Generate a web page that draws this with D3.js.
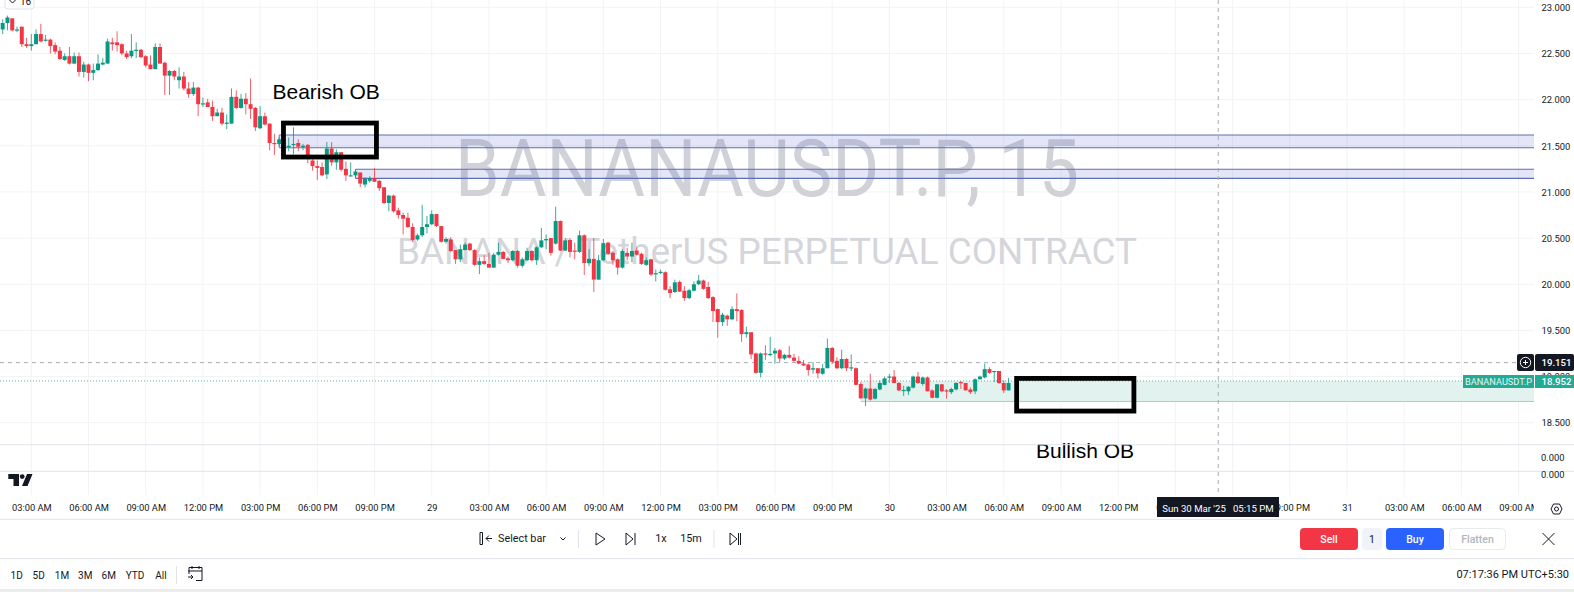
<!DOCTYPE html>
<html>
<head>
<meta charset="utf-8">
<script src="https://cdn.jsdelivr.net/npm/d3@7"></script>
<style>
html, body { margin: 0; padding: 0; background: #fff; overflow: hidden; }
text { font-family: Roboto, sans-serif; fill: #131722; }
</style>
</head>
<body>
<script>
// candles, one per 15m bar
var opens = [
  22.76,22.83,22.88,22.75,22.79,22.60,22.58,22.60,22.71,22.64,
  22.65,22.59,22.53,22.43,22.47,22.39,22.47,22.30,22.38,22.29,
  22.32,22.38,22.39,22.62,22.62,22.60,22.50,22.47,22.53,22.54,
  22.47,22.38,22.33,22.57,22.40,22.26,22.31,22.21,22.25,22.12,
  22.06,22.13,21.95,21.97,21.92,21.82,21.86,21.74,21.74,22.03,
  21.91,22.01,21.95,21.91,21.69,21.82,21.74,21.53,21.52,21.57,
  21.49,21.51,21.53,21.49,21.51,21.34,21.28,21.27,21.19,21.47,
  21.32,21.43,21.25,21.175,21.18,21.21,21.08,21.12,21.15,21.12,
  21.05,20.88,20.96,20.80,20.75,20.72,20.62,20.485,20.53,20.62,
  20.65,20.76,20.63,20.46,20.485,20.37,20.27,20.37,20.44,20.37,
  20.21,20.25,20.22,20.18,20.32,20.35,20.28,20.26,20.36,20.20,
  20.26,20.36,20.26,20.40,20.475,20.50,20.44,20.685,20.365,20.48,
  20.365,20.35,20.53,20.23,20.275,20.05,20.26,20.45,20.34,20.27,
  20.18,20.34,20.30,20.365,20.33,20.21,20.27,20.11,20.13,20.13,
  19.945,19.916,20.025,19.93,19.85,19.93,20.00,20.04,19.97,19.86,
  19.73,19.59,19.66,19.62,19.73,19.72,19.46,19.48,19.25,19.04,
  19.25,19.235,19.25,19.285,19.195,19.235,19.205,19.17,19.14,19.13,
  19.075,19.09,19.03,19.09,19.31,19.17,19.09,19.19,19.095,19.09,
  18.92,18.764,18.87,18.76,18.86,18.91,18.99,19.00,18.93,18.85,
  18.84,18.88,19.00,18.92,18.99,18.85,18.77,18.916,18.85,18.83,
  18.86,18.94,18.93,18.86,18.84,18.97,18.99,19.08,19.05,19.06,18.93,18.85
]
var highs = [
  22.87,22.91,22.88,22.79,22.79,22.67,22.71,22.76,22.82,22.70,
  22.66,22.62,22.57,22.50,22.57,22.51,22.51,22.41,22.39,22.39,
  22.49,22.45,22.66,22.67,22.74,22.61,22.53,22.71,22.62,22.55,
  22.48,22.48,22.61,22.61,22.41,22.32,22.32,22.35,22.30,22.19,
  22.19,22.14,22.02,22.01,21.99,21.90,21.91,21.84,22.12,22.10,
  22.06,22.07,22.23,21.92,21.93,21.86,21.74,21.63,21.59,21.58,
  21.59,21.70,21.57,21.52,21.52,21.39,21.34,21.32,21.54,21.54,
  21.46,21.43,21.33,21.32,21.24,21.21,21.16,21.17,21.26,21.13,
  21.05,20.97,20.97,20.83,20.775,20.775,20.66,20.55,20.86,20.74,
  20.80,20.76,20.63,20.51,20.51,20.37,20.43,20.45,20.45,20.38,
  20.29,20.315,20.34,20.34,20.45,20.36,20.30,20.37,20.37,20.29,
  20.395,20.37,20.41,20.61,20.54,20.50,20.84,20.69,20.50,20.50,
  20.45,20.58,20.54,20.38,20.50,20.315,20.49,20.46,20.36,20.28,
  20.38,20.395,20.45,20.40,20.34,20.29,20.275,20.16,20.16,20.14,
  19.98,20.05,20.04,19.98,19.95,20.03,20.10,20.05,20.025,19.87,
  19.735,19.69,19.67,19.76,19.90,19.73,19.54,19.48,19.26,19.26,
  19.34,19.43,19.31,19.30,19.245,19.33,19.245,19.22,19.18,19.14,
  19.155,19.09,19.135,19.41,19.32,19.21,19.29,19.20,19.24,19.10,
  18.94,18.88,19.03,18.88,18.96,19.00,19.03,19.07,18.94,18.90,
  18.895,19.01,19.05,19.00,19.00,18.86,18.92,18.92,18.865,18.88,
  18.94,18.95,18.93,18.88,18.98,19.01,19.14,19.10,19.06,19.06,18.96,18.985
]
var lows = [
  22.71,22.75,22.74,22.73,22.57,22.56,22.53,22.60,22.62,22.63,
  22.50,22.49,22.43,22.42,22.38,22.39,22.25,22.24,22.20,22.21,
  22.31,22.37,22.39,22.53,22.52,22.48,22.44,22.45,22.45,22.45,
  22.35,22.33,22.33,22.39,22.05,22.05,22.21,22.12,22.10,22.02,
  22.04,21.82,21.92,21.92,21.77,21.82,21.72,21.68,21.74,21.90,
  21.90,21.84,21.79,21.66,21.68,21.72,21.45,21.40,21.50,21.52,
  21.44,21.41,21.44,21.45,21.31,21.23,21.13,21.17,21.14,21.28,
  21.24,21.22,21.12,21.17,21.17,21.05,21.05,21.10,21.11,21.01,
  20.87,20.79,20.775,20.71,20.54,20.61,20.46,20.47,20.51,20.55,
  20.64,20.62,20.45,20.44,20.35,20.22,20.24,20.37,20.36,20.20,
  20.11,20.21,20.18,20.18,20.31,20.27,20.23,20.25,20.18,20.18,
  20.25,20.25,20.21,20.395,20.38,20.31,20.43,20.36,20.36,20.29,
  20.27,20.34,20.10,20.195,19.916,20.05,20.25,20.32,20.21,20.105,
  20.17,20.26,20.24,20.31,20.21,20.20,20.09,20.03,20.11,19.93,
  19.85,19.905,19.916,19.82,19.84,19.92,19.99,19.94,19.84,19.59,
  19.42,19.55,19.55,19.61,19.60,19.375,19.42,19.19,19.03,18.99,
  19.18,19.22,19.14,19.155,19.18,19.195,19.16,19.135,19.115,19.01,
  19.03,18.98,19.02,19.09,19.135,19.08,19.08,19.06,19.06,18.905,
  18.76,18.68,18.74,18.75,18.85,18.905,18.93,18.93,18.84,18.79,
  18.80,18.87,18.92,18.90,18.84,18.764,18.764,18.83,18.76,18.81,
  18.85,18.865,18.85,18.81,18.81,18.97,18.98,19.03,18.94,18.92,18.82,18.85
]
var closes = [
  22.83,22.89,22.75,22.76,22.60,22.58,22.60,22.71,22.63,22.65,
  22.58,22.52,22.44,22.47,22.39,22.47,22.30,22.38,22.29,22.32,
  22.39,22.40,22.63,22.60,22.59,22.50,22.46,22.53,22.54,22.46,
  22.37,22.33,22.57,22.39,22.26,22.31,22.25,22.25,22.12,22.06,
  22.13,21.95,21.96,21.92,21.82,21.86,21.74,21.75,22.03,21.91,
  22.01,21.95,21.90,21.70,21.82,21.73,21.53,21.52,21.57,21.55,
  21.50,21.52,21.49,21.50,21.39,21.28,21.26,21.18,21.47,21.32,
  21.43,21.24,21.18,21.18,21.22,21.09,21.14,21.15,21.11,21.04,
  20.88,20.96,20.79,20.75,20.71,20.62,20.48,20.53,20.62,20.65,
  20.76,20.63,20.46,20.49,20.36,20.27,20.38,20.43,20.37,20.21,
  20.25,20.22,20.18,20.32,20.35,20.275,20.26,20.36,20.20,20.27,
  20.36,20.26,20.40,20.475,20.49,20.34,20.685,20.365,20.475,20.35,
  20.36,20.53,20.23,20.275,20.05,20.26,20.445,20.33,20.26,20.18,
  20.36,20.30,20.36,20.32,20.22,20.26,20.105,20.12,20.135,19.94,
  19.905,20.02,19.92,19.85,19.935,20.00,20.04,19.95,19.85,19.71,
  19.59,19.67,19.62,19.73,19.71,19.46,19.48,19.24,19.04,19.25,
  19.24,19.245,19.28,19.195,19.235,19.205,19.17,19.14,19.12,19.07,
  19.09,19.035,19.09,19.31,19.16,19.09,19.19,19.09,19.10,18.91,
  18.764,18.87,18.75,18.865,18.93,18.98,19.00,18.93,18.85,18.855,
  18.89,19.00,18.93,18.99,18.84,18.77,18.916,18.84,18.84,18.865,
  18.93,18.93,18.85,18.83,18.97,19.00,19.08,19.04,19.06,18.93,18.85,18.93
]

// axes
var priceTicks = [23, 22.5, 22, 21.5, 21, 20.5, 20, 19.5, 19, 18.5]
var timeBars = [6,18,30,42,54,66,78,90,102,114,126,138,150,162,174,186,198,210,222,234,246,258,270,282,294,306,318]
var timeLabels = ['03:00 AM','06:00 AM','09:00 AM','12:00 PM','03:00 PM','06:00 PM','09:00 PM','29',
  '03:00 AM','06:00 AM','09:00 AM','12:00 PM','03:00 PM','06:00 PM','09:00 PM','30',
  '03:00 AM','06:00 AM','09:00 AM','12:00 PM','03:00 PM','06:00 PM','09:00 PM','31',
  '03:00 AM','06:00 AM','09:00 AM']

// zones and annotation boxes: [first bar, top price, bottom price]
var blueZones = [[58, 21.616, 21.479], [74, 21.245, 21.147]]
var greenZone = [180, 18.952, 18.73]
var crossBar = 255
var crossPrice = 19.151
var lastPrice = 18.952
var noteBoxes = [[58.9, 78.4, 21.746, 21.378], [212.7, 237.3, 18.98, 18.626]]

var ranges = ['1D','5D','1M','3M','6M','YTD','All']
var rangeX = [16.7, 38.7, 62, 85.3, 108.7, 135, 161]

var W = 1574, H = 592, paneRight = 1534
var red = '#f23645', green = '#089981'

var svg = d3.select('body').append('svg').attr('width', W).attr('height', H)
  .style('display', 'block')

var x = d3.scaleLinear().domain([6, 318]).range([31.3, 1518.6])
var y = d3.scaleLinear().domain([23, 18.5]).range([7.3, 422.7])

svg.append('clipPath').attr('id', 'pane').append('rect')
  .attr('width', paneRight).attr('height', 495)

// grid
var grid = svg.append('g').attr('clip-path', 'url(#pane)')
grid.selectAll('line.v').data(timeBars).enter().append('line')
  .attr('x1', function(d) { return x(d) }).attr('x2', function(d) { return x(d) })
  .attr('y1', 0).attr('y2', 495).attr('stroke', '#f2f3f5')
grid.selectAll('line.h').data(priceTicks).enter().append('line')
  .attr('x1', 0).attr('x2', paneRight)
  .attr('y1', function(d) { return y(d) }).attr('y2', function(d) { return y(d) })
  .attr('stroke', '#f2f3f5')

// watermark
svg.append('text').attr('x', 455).attr('y', 196).attr('font-size', 79)
  .attr('textLength', 624).attr('lengthAdjust', 'spacingAndGlyphs')
  .style('fill', '#d0d2d8').text('BANANAUSDT.P, 15')
svg.append('text').attr('x', 397).attr('y', 263.5).attr('font-size', 37)
  .attr('textLength', 740).attr('lengthAdjust', 'spacingAndGlyphs')
  .style('fill', '#d5d6db').text('BANANA / TetherUS PERPETUAL CONTRACT')

// zones
var plot = svg.append('g').attr('clip-path', 'url(#pane)')
blueZones.forEach(function(z) {
  plot.append('rect').attr('x', x(z[0])).attr('y', y(z[1]))
    .attr('width', paneRight - x(z[0])).attr('height', y(z[2]) - y(z[1]))
    .attr('fill', '#3f51c8').attr('fill-opacity', 0.14)
  plot.selectAll(null).data([z[1], z[2]]).enter().append('line')
    .attr('x1', x(z[0])).attr('x2', paneRight)
    .attr('y1', function(d) { return y(d) }).attr('y2', function(d) { return y(d) })
    .attr('stroke', '#5b6fb4').attr('stroke-width', 1.1)
  plot.append('line').attr('x1', x(z[0])).attr('x2', x(z[0]))
    .attr('y1', y(z[1])).attr('y2', y(z[2])).attr('stroke', '#5b6fb4')
})
plot.append('rect').attr('x', x(greenZone[0])).attr('y', y(greenZone[1]))
  .attr('width', paneRight - x(greenZone[0])).attr('height', y(greenZone[2]) - y(greenZone[1]))
  .attr('fill', '#e2f3ef')
plot.append('line').attr('x1', x(greenZone[0])).attr('x2', paneRight)
  .attr('y1', y(greenZone[2])).attr('y2', y(greenZone[2])).attr('stroke', '#9dd3c7')

// crosshair and last price line
plot.append('line').attr('x1', 0).attr('x2', paneRight - 17)
  .attr('y1', y(crossPrice)).attr('y2', y(crossPrice))
  .attr('stroke', '#a9acb4').attr('stroke-dasharray', '4 4')
plot.append('line').attr('x1', x(crossBar)).attr('x2', x(crossBar))
  .attr('y1', 0).attr('y2', 495)
  .attr('stroke', '#a9acb4').attr('stroke-dasharray', '4 4')
plot.append('line').attr('x1', 0).attr('x2', paneRight)
  .attr('y1', y(lastPrice)).attr('y2', y(lastPrice))
  .attr('stroke', '#57b5a5').attr('stroke-dasharray', '1 2')

// candles
var candles = plot.selectAll('g.candle').data(d3.range(opens.length)).enter().append('g')
candles.append('line')
  .attr('x1', function(i) { return x(i) }).attr('x2', function(i) { return x(i) })
  .attr('y1', function(i) { return y(highs[i]) }).attr('y2', function(i) { return y(lows[i]) })
  .attr('stroke', function(i) { return closes[i] >= opens[i] ? green : red })
  .attr('stroke-opacity', 0.8)
candles.append('rect')
  .attr('x', function(i) { return x(i) - 2 }).attr('width', 4)
  .attr('y', function(i) { return y(Math.max(opens[i], closes[i])) })
  .attr('height', function(i) { return Math.max(1.2, Math.abs(y(opens[i]) - y(closes[i]))) })
  .attr('fill', function(i) { return closes[i] >= opens[i] ? green : red })

// annotations
svg.selectAll('rect.note').data(noteBoxes).enter().append('rect')
  .attr('x', function(d) { return x(d[0]) }).attr('width', function(d) { return x(d[1]) - x(d[0]) })
  .attr('y', function(d) { return y(d[2]) }).attr('height', function(d) { return y(d[3]) - y(d[2]) })
  .attr('fill', 'none').attr('stroke', '#000').attr('stroke-width', 4.8)
svg.append('text').attr('x', 272.5).attr('y', 99).attr('font-size', 21)
  .style('font-family', 'Liberation Sans, Arial, sans-serif').style('fill', '#000').text('Bearish OB')
svg.append('text').attr('x', 1036).attr('y', 458.3).attr('font-size', 21)
  .style('font-family', 'Liberation Sans, Arial, sans-serif').style('fill', '#000').text('Bullish OB')

// price axis
var yAxis = d3.axisRight(y).tickValues(priceTicks)
  .tickFormat(function(d) { return d.toFixed(3) }).tickSize(0).tickPadding(0)
var yg = svg.append('g').attr('transform', 'translate(1541.5,0)').call(yAxis)
yg.select('.domain').remove()
yg.selectAll('text').attr('font-size', 9.4).attr('dy', '0.35em').style('fill', '#131722')

// sub panes
svg.selectAll('line.sep').data([444.7, 471.3]).enter().append('line')
  .attr('x1', 0).attr('x2', W)
  .attr('y1', function(d) { return d }).attr('y2', function(d) { return d })
  .attr('stroke', '#e0e3eb')
svg.selectAll('text.zero').data([458, 475]).enter().append('text')
  .attr('x', 1541).attr('y', function(d) { return d }).attr('dy', '0.35em')
  .attr('font-size', 9.4).text('0.000')

// price labels
svg.append('rect').attr('x', 1517).attr('y', 354).attr('width', 17).attr('height', 17).attr('rx', 2).attr('fill', '#131722')
svg.append('circle').attr('cx', 1525.5).attr('cy', 362.5).attr('r', 5.2).attr('fill', 'none').attr('stroke', '#fff')
svg.append('path').attr('d', 'M1523 362.5h5M1525.5 360v5').attr('stroke', '#fff')
svg.append('rect').attr('x', 1535).attr('y', 354).attr('width', 39).attr('height', 17).attr('rx', 2).attr('fill', '#131722')
svg.append('text').attr('x', 1541.5).attr('y', y(crossPrice)).attr('dy', '0.35em').attr('font-size', 9.6)
  .style('fill', '#fff').style('font-weight', 500).text(crossPrice.toFixed(3))
svg.append('rect').attr('x', 1463).attr('y', 375).attr('width', 71).attr('height', 13).attr('fill', '#22ab94')
svg.append('text').attr('x', 1498.5).attr('y', 381.7).attr('dy', '0.35em').attr('text-anchor', 'middle')
  .attr('font-size', 9.2).style('fill', '#e6f6f3').text('BANANAUSDT.P')
svg.append('rect').attr('x', 1535).attr('y', 375).attr('width', 39).attr('height', 13).attr('fill', '#22ab94')
svg.append('text').attr('x', 1541.5).attr('y', 381.7).attr('dy', '0.35em').attr('font-size', 9.6)
  .style('fill', '#fff').style('font-weight', 500).text(lastPrice.toFixed(3))

// top left chip
svg.append('rect').attr('x', 5).attr('y', -8).attr('width', 29).attr('height', 17).attr('rx', 3)
  .attr('fill', '#fff').attr('stroke', '#e0e3eb')
svg.append('path').attr('d', 'M9.5 0l3 3 3-3').attr('fill', 'none').attr('stroke', '#131722')
svg.append('text').attr('x', 20).attr('y', 5).attr('font-size', 10).text('16')

// tradingview logo
svg.append('path').attr('fill', '#131722')
  .attr('d', 'M8.3 474h10.7v12h-5.5v-7h-5.2zM27 474h5.5l-5 12h-5.5z')
svg.append('circle').attr('cx', 22.2).attr('cy', 476.6).attr('r', 2.4).attr('fill', '#131722')

// time axis
svg.append('clipPath').attr('id', 'timeclip').append('rect')
  .attr('y', 495).attr('width', paneRight).attr('height', 24)
var xAxis = d3.axisBottom(x).tickValues(timeBars)
  .tickFormat(function(d, i) { return timeLabels[i] }).tickSize(0).tickPadding(0)
var xg = svg.append('g').attr('clip-path', 'url(#timeclip)')
  .append('g').attr('transform', 'translate(0,504.5)').call(xAxis)
xg.select('.domain').remove()
xg.selectAll('text').attr('font-size', 9.3).style('fill', '#131722')

svg.append('rect').attr('x', 1157).attr('y', 497).attr('width', 122).attr('height', 20).attr('fill', '#131722')
svg.append('text').attr('x', 1218).attr('y', 508.5).attr('dy', '0.35em').attr('text-anchor', 'middle')
  .attr('font-size', 9.6).style('fill', '#fff').attr('xml:space', 'preserve')
  .text("Sun 30 Mar '25   05:15 PM")

// settings icon
svg.append('path').attr('d', 'M1551 509l2.5-5h6l2.5 5-2.5 5h-6z').attr('fill', 'none').attr('stroke', '#131722')
svg.append('circle').attr('cx', 1556.5).attr('cy', 509).attr('r', 2).attr('fill', 'none').attr('stroke', '#131722')

// toolbars
svg.selectAll('line.bar').data([519.3, 558.7]).enter().append('line')
  .attr('x1', 0).attr('x2', W)
  .attr('y1', function(d) { return d }).attr('y2', function(d) { return d })
  .attr('stroke', '#e0e3eb')
svg.append('rect').attr('y', 589).attr('width', W).attr('height', 3).attr('fill', '#ececec')

// replay bar
svg.append('path').attr('fill', 'none').attr('stroke', '#131722')
  .attr('d', 'M480 532.5h2.5v12h-2.5zM492 538.5h-6M489 535.5l-3 3 3 3')
svg.append('text').attr('x', 498).attr('y', 541.5).attr('font-size', 10.8).text('Select bar')
svg.append('path').attr('d', 'M560.5 537.5l2.5 2.5 2.5-2.5').attr('fill', 'none').attr('stroke', '#131722')
svg.append('line').attr('x1', 578.5).attr('x2', 578.5).attr('y1', 530).attr('y2', 548).attr('stroke', '#e0e3eb')
svg.append('path').attr('d', 'M596 533l9 6-9 6z').attr('fill', 'none').attr('stroke', '#131722')
svg.append('path').attr('d', 'M626 533l7 6-7 6zM635 533v12').attr('fill', 'none').attr('stroke', '#131722')
svg.append('text').attr('x', 661).attr('y', 541.5).attr('text-anchor', 'middle').attr('font-size', 10.8).text('1x')
svg.append('text').attr('x', 691).attr('y', 541.5).attr('text-anchor', 'middle').attr('font-size', 10.8).text('15m')
svg.append('line').attr('x1', 714).attr('x2', 714).attr('y1', 530).attr('y2', 548).attr('stroke', '#e0e3eb')
svg.append('path').attr('d', 'M730 533l7 6-7 6zM738.5 533v12M740.5 533v12').attr('fill', 'none').attr('stroke', '#131722')

// order buttons
svg.append('rect').attr('x', 1300).attr('y', 528).attr('width', 58).attr('height', 22).attr('rx', 4).attr('fill', red)
svg.append('text').attr('x', 1329).attr('y', 542.5).attr('text-anchor', 'middle').attr('font-size', 10.5).style('fill', '#fff').style('font-weight', 500).text('Sell')
svg.append('rect').attr('x', 1362).attr('y', 528).attr('width', 20).attr('height', 22).attr('rx', 4).attr('fill', '#f0f3fa')
svg.append('text').attr('x', 1372).attr('y', 542.5).attr('text-anchor', 'middle').attr('font-size', 10.5).text('1')
svg.append('rect').attr('x', 1386).attr('y', 528).attr('width', 58).attr('height', 22).attr('rx', 4).attr('fill', '#2962ff')
svg.append('text').attr('x', 1415).attr('y', 542.5).attr('text-anchor', 'middle').attr('font-size', 10.5).style('fill', '#fff').style('font-weight', 500).text('Buy')
svg.append('rect').attr('x', 1449.5).attr('y', 528.5).attr('width', 56).attr('height', 21).attr('rx', 4).attr('fill', '#fff').attr('stroke', '#e8eaf0')
svg.append('text').attr('x', 1477.5).attr('y', 542.5).attr('text-anchor', 'middle').attr('font-size', 10.5).style('fill', '#b2b5be').style('font-weight', 500).text('Flatten')
svg.append('path').attr('d', 'M1542.5 533l12 12M1554.5 533l-12 12').attr('stroke', '#131722').attr('fill', 'none')

// range bar
svg.selectAll('text.range').data(ranges).enter().append('text')
  .attr('x', function(d, i) { return rangeX[i] }).attr('y', 578.5)
  .attr('text-anchor', 'middle').attr('font-size', 10).text(function(d) { return d })
svg.append('line').attr('x1', 176.5).attr('x2', 176.5).attr('y1', 566).attr('y2', 584).attr('stroke', '#e0e3eb')
svg.append('path').attr('fill', 'none').attr('stroke', '#131722')
  .attr('d', 'M189 574v-6.5h13v13h-6M192 566v3M199 566v3M188 577h5M191 575l2 2-2 2M188 571h14')
svg.append('text').attr('x', 1569).attr('y', 578).attr('text-anchor', 'end').attr('font-size', 11).text('07:17:36 PM UTC+5:30')
</script>
</body>
</html>
